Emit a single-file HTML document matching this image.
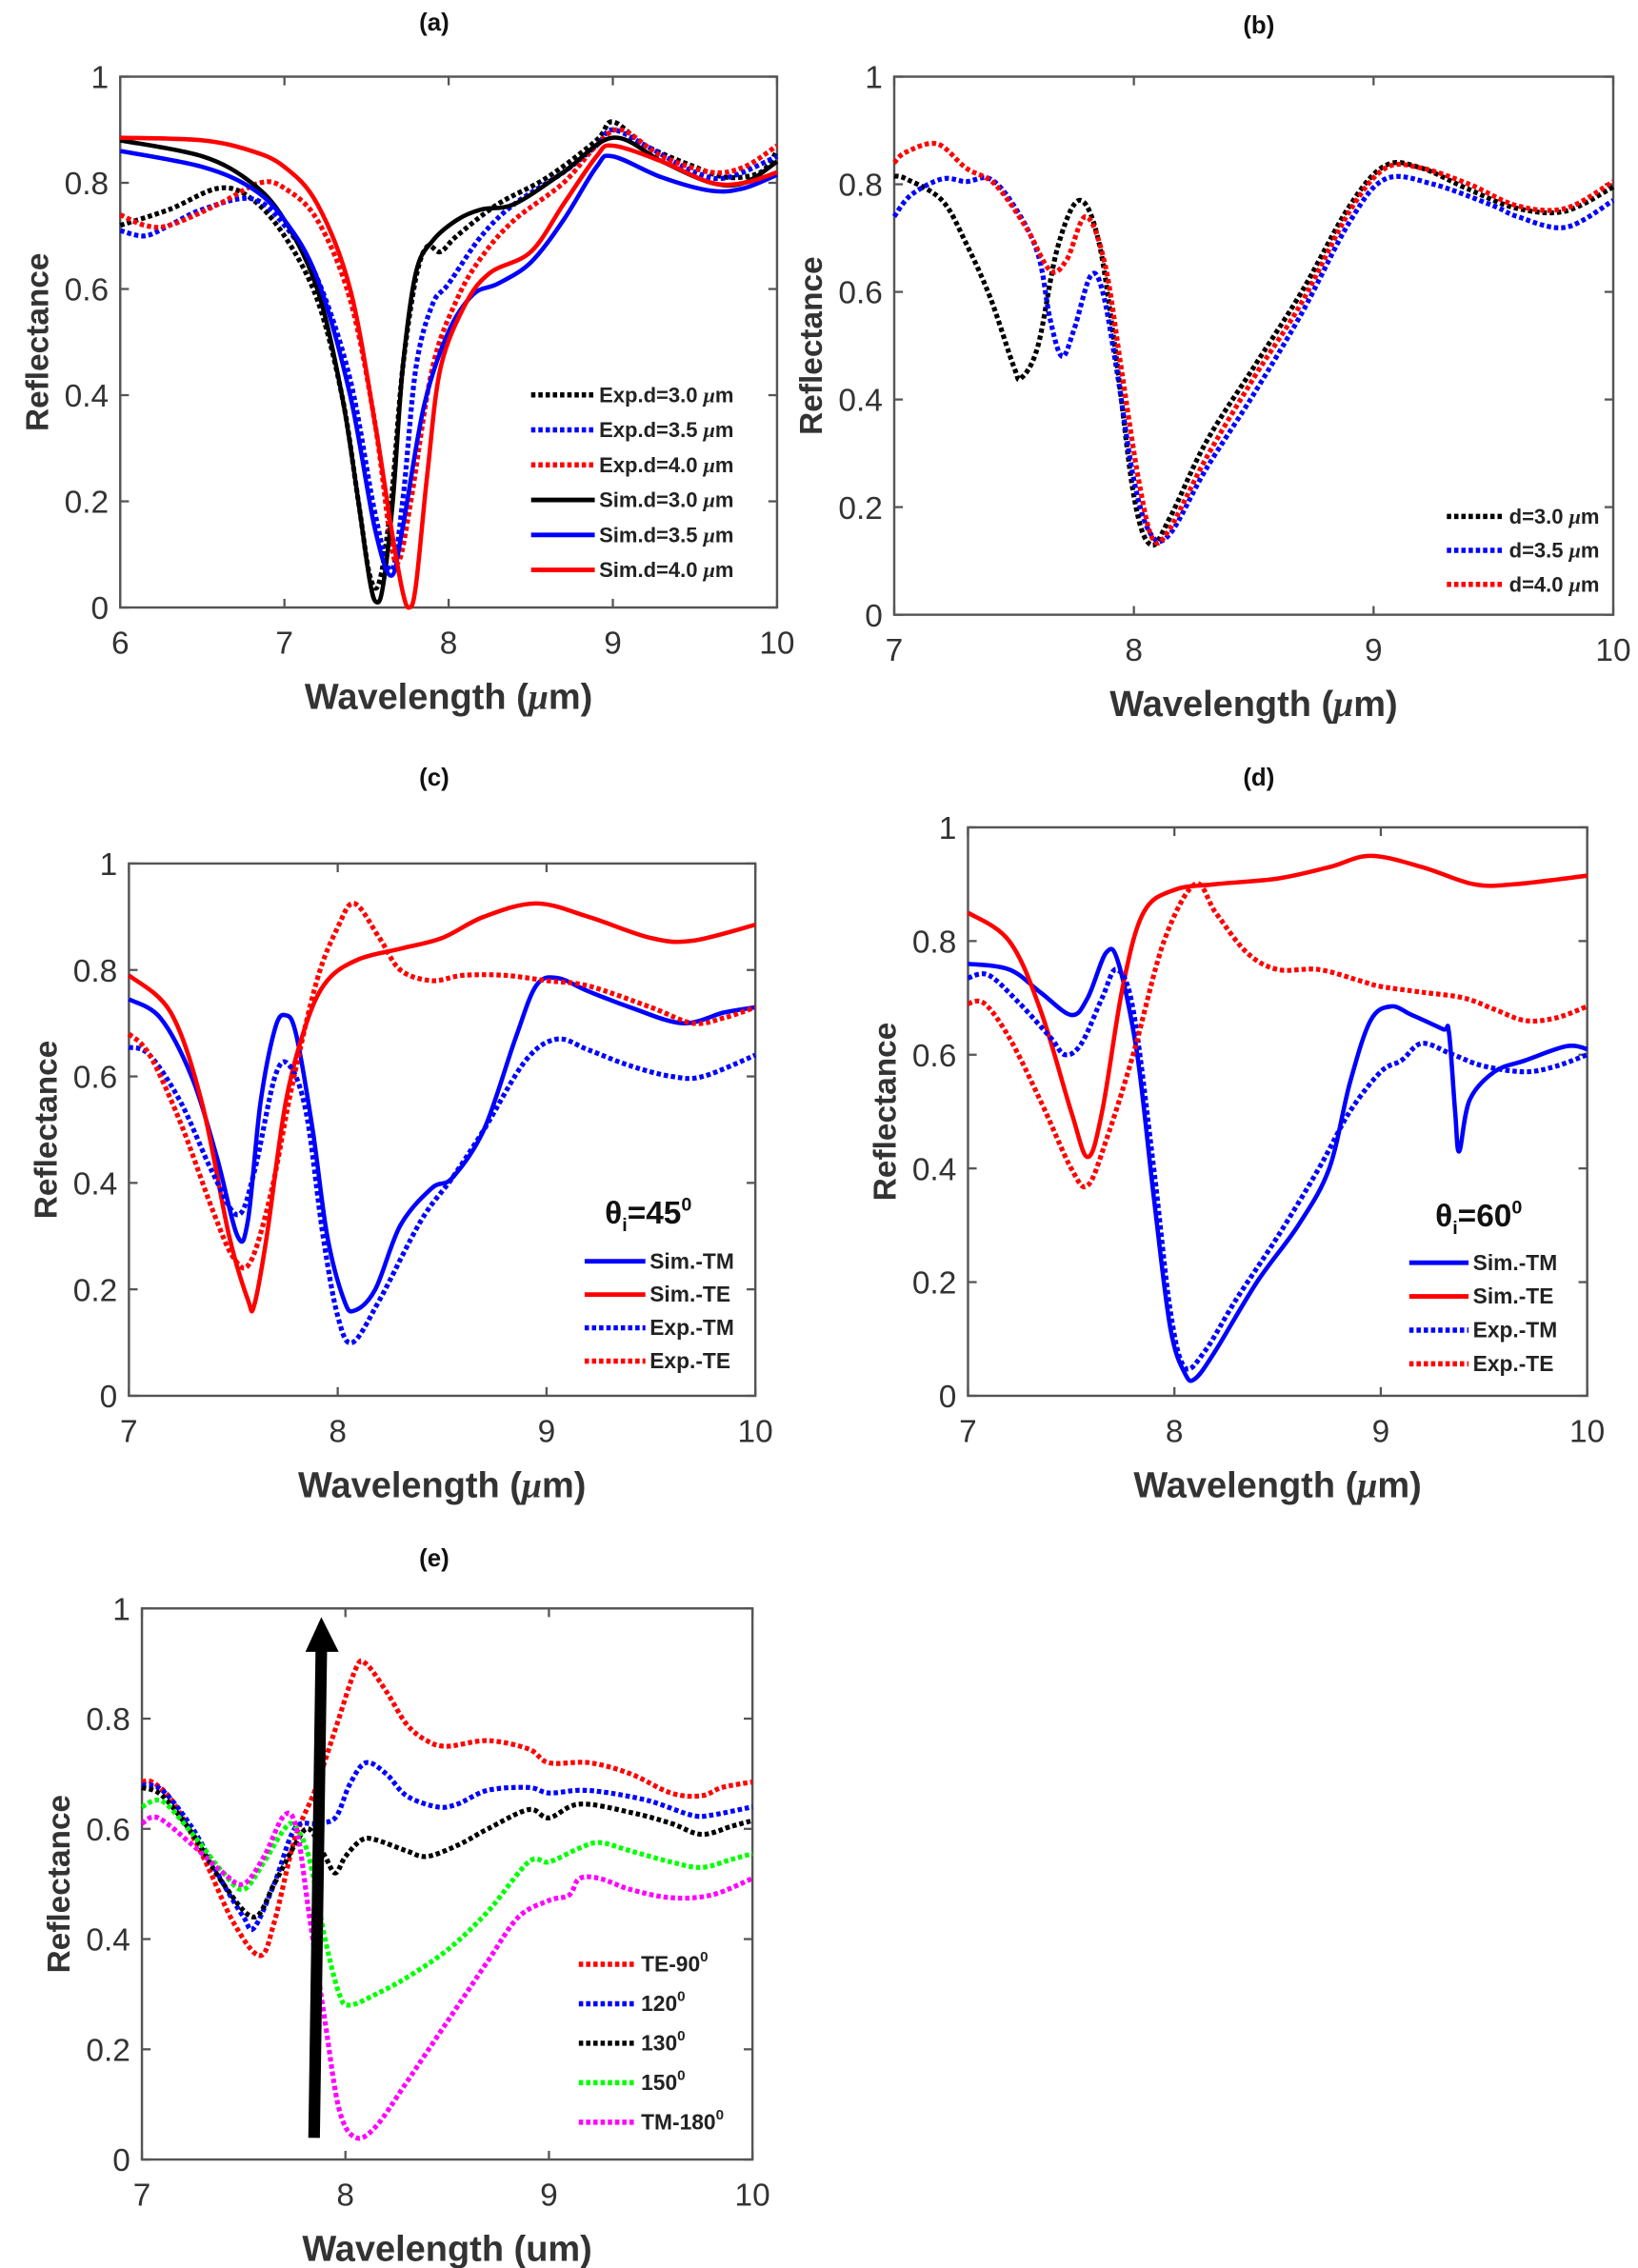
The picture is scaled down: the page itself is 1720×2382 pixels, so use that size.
<!DOCTYPE html>
<html><head><meta charset="utf-8"><style>
html,body{margin:0;padding:0;background:#fff}
svg{display:block}
text{font-family:"Liberation Sans",sans-serif}
</style></head><body>
<svg id="s" xmlns="http://www.w3.org/2000/svg" width="1720" height="2382" viewBox="0 0 1132 1568"></svg>
<script>
const S=document.getElementById('s');let h='';
function panel(p){
 const {x0,x1,y0,y1,xmin,xmax,xt,title,tx,ty}=p;
 const X=v=>x0+(v-xmin)/(xmax-xmin)*(x1-x0), Y=v=>y1-(v)*(y1-y0);
 p.X=X;p.Y=Y;
 h+=`<rect x="${x0}" y="${y0}" width="${x1-x0}" height="${y1-y0}" fill="none" stroke="#555" stroke-width="1.6"/>`;
 for(const t of xt){const xx=X(t);h+=`<line x1="${xx}" y1="${y1}" x2="${xx}" y2="${y1-6}" stroke="#555" stroke-width="1.5"/><line x1="${xx}" y1="${y0}" x2="${xx}" y2="${y0+6}" stroke="#555" stroke-width="1.5"/>`;
  h+=`<text x="${xx}" y="${y1+32}" font-size="22" fill="#333" text-anchor="middle">${t}</text>`;}
 for(const t of [0,0.2,0.4,0.6,0.8,1]){const yy=Y(t);h+=`<line x1="${x0}" y1="${yy}" x2="${x0+6}" y2="${yy}" stroke="#555" stroke-width="1.5"/><line x1="${x1}" y1="${yy}" x2="${x1-6}" y2="${yy}" stroke="#555" stroke-width="1.5"/>`;
  h+=`<text x="${x0-8}" y="${yy+8}" font-size="22" fill="#333" text-anchor="end">${t}</text>`;}
 h+=`<text x="${tx}" y="${ty}" font-size="17" font-weight="bold" text-anchor="middle" fill="#111">${title}</text>`;
 const cy=(y0+y1)/2, lx=x0-58;
 h+=`<text transform="translate(${lx+8},${cy}) rotate(-90)" font-size="22" font-weight="bold" fill="#333" text-anchor="middle">Reflectance</text>`;
 h+=`<text x="${(x0+x1)/2}" y="${y1+70}" font-size="25" font-weight="bold" fill="#333" text-anchor="middle">${p.xl}</text>`;
}
function curve(p,pts,col,dot){
 const P=pts.map(a=>[p.X(a[0]),p.Y(a[1])]);let d=`M${P[0][0].toFixed(1)},${P[0][1].toFixed(1)}`;
 for(let i=0;i<P.length-1;i++){const a=P[i-1]||P[i],b=P[i],c=P[i+1],e=P[i+2]||c;
  d+=`C${(b[0]+(c[0]-a[0])/6).toFixed(1)},${(b[1]+(c[1]-a[1])/6).toFixed(1)} ${(c[0]-(e[0]-b[0])/6).toFixed(1)},${(c[1]-(e[1]-b[1])/6).toFixed(1)} ${c[0].toFixed(1)},${c[1].toFixed(1)}`;}
 h+=`<path d="${d}" fill="none" stroke="${col}" stroke-width="${dot?3.4:3}" ${dot?'stroke-dasharray="3 2"':''} stroke-linejoin="round"/>`;
}
function leg(x,y,col,dot,txt,w,fs){w=w||40;fs=fs||14.5;h+=`<line x1="${x}" y1="${y}" x2="${x+w}" y2="${y}" stroke="${col}" stroke-width="${dot?3.6:3.2}" ${dot?'stroke-dasharray="3 2"':''}/><text x="${x+w+3}" y="${y+5}" font-size="${fs}" font-weight="bold" fill="#222">${txt}</text>`;}
const mu='<tspan font-style="italic" font-family="Liberation Serif,serif">μ</tspan>';
const K='#000',B='#0000ff',R='#ff0000',G='#00ff00',M='#ff00ff';
// (a)
let a={x0:83,x1:537,y0:53,y1:420,xmin:6,xmax:10,xt:[6,7,8,9,10],title:'(a)',tx:300,ty:21,xl:'Wavelength ('+mu+'m)'};panel(a);
curve(a,[[6,.72],[6.3,.75],[6.6,.79],[6.8,.77],[7,.7],[7.2,.58],[7.35,.4],[7.45,.2],[7.52,.06],[7.58,.05],[7.65,.2],[7.72,.45],[7.8,.62],[7.87,.68],[7.95,.67],[8.05,.7],[8.3,.76],[8.6,.81],[8.9,.88],[9,.915],[9.2,.87],[9.5,.83],[9.7,.81],[9.9,.82],[10,.86]],K,1);
curve(a,[[6,.71],[6.15,.7],[6.3,.72],[6.5,.75],[6.8,.77],[7,.72],[7.2,.62],[7.4,.43],[7.55,.18],[7.65,.07],[7.72,.2],[7.8,.45],[7.9,.57],[8,.61],[8.2,.7],[8.4,.76],[8.7,.82],[8.9,.87],[9,.9],[9.2,.87],[9.5,.82],[9.7,.81],[10,.85]],B,1);
curve(a,[[6,.74],[6.15,.72],[6.3,.72],[6.6,.76],[6.85,.8],[7,.79],[7.2,.73],[7.4,.58],[7.55,.35],[7.65,.12],[7.7,.09],[7.77,.2],[7.9,.45],[8.05,.58],[8.2,.66],[8.4,.73],[8.7,.8],[8.9,.87],[9.05,.9],[9.3,.85],[9.6,.82],[9.8,.83],[10,.87]],R,1);
curve(a,[[6,.88],[6.5,.85],[6.8,.8],[7,.73],[7.2,.6],[7.35,.4],[7.45,.2],[7.52,.05],[7.56,.01],[7.6,.04],[7.66,.2],[7.72,.45],[7.8,.63],[7.9,.69],[8.05,.73],[8.2,.75],[8.4,.76],[8.7,.82],[9,.885],[9.3,.84],[9.6,.8],[9.8,.8],[10,.84]],K,0);
curve(a,[[6,.86],[6.5,.83],[6.8,.79],[7,.73],[7.2,.62],[7.4,.4],[7.55,.15],[7.65,.06],[7.72,.15],[7.85,.38],[8,.52],[8.15,.59],[8.3,.61],[8.5,.65],[8.7,.73],[8.9,.83],[9,.85],[9.3,.81],[9.6,.785],[9.8,.79],[10,.815]],B,0);
curve(a,[[6,.885],[6.5,.88],[6.8,.86],[7,.83],[7.2,.76],[7.4,.6],[7.55,.35],[7.65,.15],[7.72,.03],[7.76,0],[7.8,.04],[7.87,.25],[7.95,.45],[8.1,.57],[8.25,.63],[8.5,.67],[8.7,.76],[8.9,.85],[9,.87],[9.3,.84],[9.6,.8],[9.8,.8],[10,.82]],R,0);
[['Exp.d=3.0 ',K,1],['Exp.d=3.5 ',B,1],['Exp.d=4.0 ',R,1],['Sim.d=3.0 ',K,0],['Sim.d=3.5 ',B,0],['Sim.d=4.0 ',R,0]].forEach((r,i)=>leg(367,273+i*24.2,r[1],r[2],r[0]+mu+'m',44));
// (b)
let b={x0:618,x1:1115,y0:53,y1:425,xmin:7,xmax:10,xt:[7,8,9,10],title:'(b)',tx:870,ty:23,xl:'Wavelength ('+mu+'m)'};panel(b);
curve(b,[[7,.815],[7.05,.81],[7.2,.77],[7.3,.69],[7.4,.59],[7.5,.46],[7.53,.44],[7.6,.5],[7.68,.68],[7.77,.77],[7.85,.7],[7.92,.5],[8,.22],[8.07,.13],[8.15,.18],[8.3,.32],[8.5,.46],[8.7,.6],[8.9,.76],[9.05,.835],[9.2,.83],[9.4,.79],[9.6,.755],[9.8,.75],[10,.795]],K,1);
curve(b,[[7,.74],[7.07,.78],[7.2,.81],[7.3,.805],[7.4,.81],[7.5,.76],[7.6,.67],[7.65,.55],[7.7,.48],[7.75,.53],[7.82,.63],[7.87,.6],[7.93,.45],[8,.25],[8.07,.15],[8.15,.15],[8.3,.27],[8.5,.41],[8.7,.56],[8.9,.73],[9.05,.81],[9.25,.8],[9.5,.76],[9.6,.74],[9.8,.72],[10,.77]],B,1);
curve(b,[[7,.84],[7.05,.86],[7.18,.875],[7.3,.83],[7.42,.8],[7.55,.72],[7.65,.64],[7.72,.66],[7.8,.74],[7.88,.65],[7.95,.45],[8.02,.25],[8.08,.14],[8.15,.16],[8.3,.29],[8.5,.44],[8.7,.58],[8.9,.75],[9.05,.83],[9.2,.83],[9.4,.8],[9.6,.76],[9.8,.755],[10,.805]],R,1);
[['d=3.0 ',K],['d=3.5 ',B],['d=4.0 ',R]].forEach((r,i)=>leg(1000,357+i*23.5,r[1],1,r[0]+mu+'m',40));
// (c)
let c={x0:89,x1:522,y0:597,y1:965,xmin:7,xmax:10,xt:[7,8,9,10],title:'(c)',tx:300,ty:543,xl:'Wavelength ('+mu+'m)'};panel(c);
curve(c,[[7,.745],[7.15,.71],[7.3,.6],[7.42,.45],[7.52,.3],[7.57,.33],[7.63,.55],[7.7,.69],[7.75,.715],[7.8,.68],[7.88,.5],[7.95,.3],[8.03,.18],[8.08,.16],[8.18,.2],[8.3,.32],[8.45,.39],[8.55,.41],[8.7,.5],[8.85,.67],[8.95,.77],[9.05,.785],[9.2,.76],[9.4,.73],[9.65,.7],[9.85,.72],[10,.73]],B,0);
curve(c,[[7,.79],[7.2,.72],[7.35,.55],[7.48,.3],[7.57,.18],[7.6,.17],[7.66,.3],[7.75,.55],[7.85,.7],[7.95,.78],[8.1,.82],[8.3,.84],[8.5,.86],[8.7,.9],[8.95,.925],[9.2,.9],[9.5,.86],[9.7,.855],[10,.885]],R,0);
curve(c,[[7,.655],[7.1,.64],[7.25,.55],[7.4,.42],[7.52,.34],[7.6,.42],[7.7,.6],[7.77,.62],[7.85,.53],[7.93,.3],[8,.15],[8.07,.1],[8.2,.18],[8.4,.33],[8.55,.41],[8.7,.5],[8.9,.63],[9.05,.67],[9.2,.65],[9.4,.62],[9.6,.6],[9.75,.6],[10,.64]],B,1);
curve(c,[[7,.68],[7.1,.64],[7.25,.51],[7.4,.35],[7.5,.26],[7.58,.25],[7.68,.38],[7.78,.58],[7.9,.78],[8,.88],[8.08,.925],[8.2,.86],[8.3,.8],[8.45,.78],[8.6,.79],[8.8,.79],[9,.78],[9.2,.77],[9.5,.73],[9.7,.7],[9.85,.71],[10,.73]],R,1);
h+=`<text x="418" y="846" font-size="22" font-weight="bold" fill="#111">θ<tspan font-size="13" dy="5">i</tspan><tspan dy="-5">=45</tspan><tspan font-size="13" dy="-9">0</tspan></text>`;
[['Sim.-TM',B,0],['Sim.-TE',R,0],['Exp.-TM',B,1],['Exp.-TE',R,1]].forEach((r,i)=>leg(404,872+i*23,r[1],r[2],r[0],42,15));
// (d)
let d={x0:669,x1:1097,y0:572,y1:965,xmin:7,xmax:10,xt:[7,8,9,10],title:'(d)',tx:870,ty:543,xl:'Wavelength ('+mu+'m)'};panel(d);
curve(d,[[7,.76],[7.2,.75],[7.35,.71],[7.5,.67],[7.58,.7],[7.67,.78],[7.73,.76],[7.82,.6],[7.9,.35],[7.98,.12],[8.05,.04],[8.1,.03],[8.2,.08],[8.4,.2],[8.6,.3],[8.75,.4],[8.85,.55],[8.95,.66],[9.05,.685],[9.15,.67],[9.3,.645],[9.33,.64],[9.36,.5],[9.38,.43],[9.43,.52],[9.55,.57],[9.7,.59],[9.9,.615],[10,.61]],B,0);
curve(d,[[7,.85],[7.2,.8],[7.35,.68],[7.5,.5],[7.58,.42],[7.65,.5],[7.75,.72],[7.85,.85],[8,.89],[8.2,.9],[8.5,.91],[8.75,.93],[8.95,.95],[9.2,.93],[9.45,.9],[9.65,.9],[10,.915]],R,0);
curve(d,[[7,.735],[7.1,.74],[7.25,.69],[7.4,.63],[7.47,.6],[7.55,.62],[7.65,.7],[7.72,.75],[7.8,.68],[7.9,.4],[7.98,.15],[8.05,.05],[8.15,.08],[8.3,.17],[8.5,.28],[8.7,.4],[8.85,.5],[9,.57],[9.1,.59],[9.2,.62],[9.35,.6],[9.5,.58],[9.7,.57],[9.85,.58],[10,.6]],B,1);
curve(d,[[7,.69],[7.08,.69],[7.2,.63],[7.35,.52],[7.5,.4],[7.58,.37],[7.67,.45],[7.8,.6],[7.95,.8],[8.1,.9],[8.2,.85],[8.35,.78],[8.5,.75],[8.7,.75],[8.9,.73],[9,.72],[9.2,.71],[9.4,.7],[9.55,.68],[9.7,.66],[9.85,.665],[10,.685]],R,1);
h+=`<text x="992" y="848" font-size="22" font-weight="bold" fill="#111">θ<tspan font-size="13" dy="5">i</tspan><tspan dy="-5">=60</tspan><tspan font-size="13" dy="-9">0</tspan></text>`;
[['Sim.-TM',B,0],['Sim.-TE',R,0],['Exp.-TM',B,1],['Exp.-TE',R,1]].forEach((r,i)=>leg(974,873+i*23.3,r[1],r[2],r[0],41,15));
// (e)
let e={x0:98,x1:520,y0:1112,y1:1493,xmin:7,xmax:10,xt:[7,8,9,10],title:'(e)',tx:300,ty:1083,xl:'Wavelength (um)'};panel(e);
curve(e,[[7,.685],[7.05,.685],[7.15,.65],[7.3,.55],[7.45,.43],[7.58,.37],[7.65,.43],[7.75,.58],[7.85,.67],[7.95,.78],[8.05,.89],[8.1,.9],[8.2,.85],[8.3,.79],[8.4,.76],[8.5,.75],[8.7,.76],[8.9,.745],[9,.72],[9.2,.72],[9.4,.7],[9.6,.665],[9.75,.66],[9.85,.675],[10,.685]],R,1);
curve(e,[[7,.68],[7.1,.67],[7.25,.6],[7.4,.5],[7.5,.44],[7.55,.42],[7.65,.5],[7.75,.6],[7.85,.61],[7.95,.62],[8.02,.68],[8.1,.72],[8.2,.7],[8.3,.66],[8.45,.64],[8.55,.645],[8.7,.67],[8.9,.675],[9,.665],[9.15,.67],[9.3,.665],[9.5,.65],[9.7,.625],[9.8,.625],[10,.64]],B,1);
curve(e,[[7,.675],[7.1,.66],[7.25,.59],[7.4,.5],[7.55,.44],[7.65,.5],[7.75,.57],[7.82,.6],[7.9,.55],[7.95,.52],[8,.55],[8.08,.58],[8.15,.58],[8.3,.56],[8.4,.55],[8.55,.57],[8.7,.6],[8.9,.635],[9,.62],[9.15,.645],[9.4,.63],[9.6,.61],[9.75,.59],[9.9,.605],[10,.615]],K,1);
curve(e,[[7,.64],[7.1,.65],[7.25,.59],[7.4,.52],[7.5,.49],[7.6,.54],[7.7,.6],[7.75,.605],[7.82,.55],[7.9,.4],[7.97,.3],[8.02,.28],[8.15,.3],[8.3,.33],[8.5,.38],[8.7,.45],[8.9,.54],[9,.54],[9.15,.565],[9.25,.575],[9.4,.56],[9.6,.54],[9.75,.53],[9.9,.545],[10,.555]],G,1);
curve(e,[[7,.61],[7.08,.62],[7.25,.57],[7.4,.52],[7.5,.5],[7.6,.55],[7.7,.625],[7.76,.6],[7.82,.45],[7.9,.25],[7.97,.09],[8.05,.04],[8.15,.06],[8.3,.14],[8.5,.25],[8.7,.36],[8.85,.44],[9,.47],[9.1,.48],[9.15,.51],[9.25,.51],[9.4,.49],[9.6,.475],[9.8,.48],[10,.51]],M,1);
h+=`<line x1="217" y1="1478" x2="222" y2="1140" stroke="#000" stroke-width="8"/><polygon points="222,1118 211,1142 234,1142" fill="#000"/>`;
const sup=s=>s+'<tspan font-size="10" dy="-7">0</tspan>';
[['TE-90',R],['120',B],['130',K],['150',G],['TM-180',M]].forEach((r,i)=>leg(400,1358+i*27.3,r[1],1,sup(r[0]),40,15));
S.innerHTML=h;
</script>
</body></html>
